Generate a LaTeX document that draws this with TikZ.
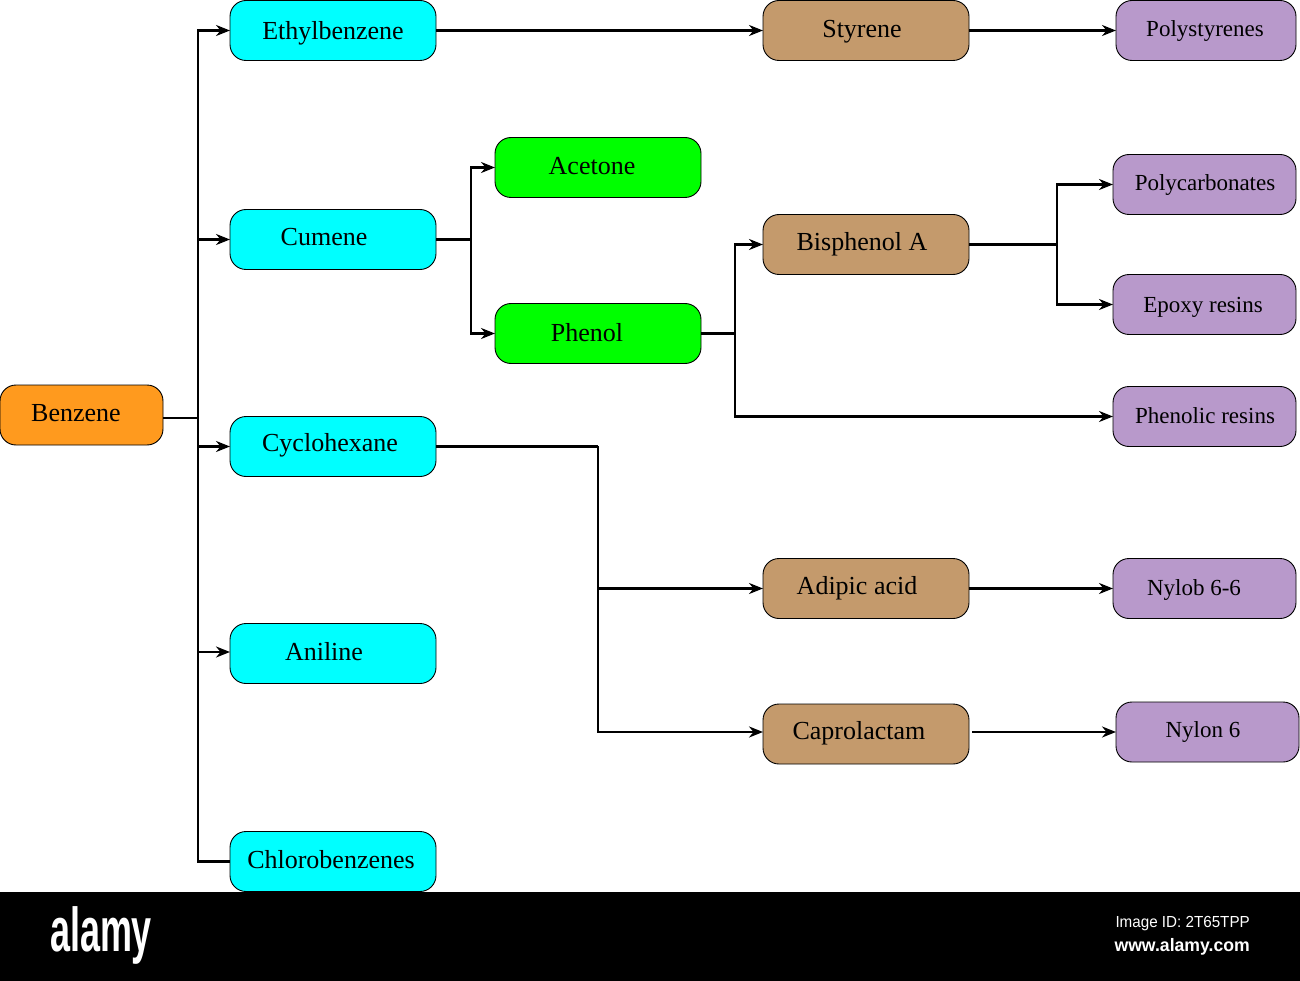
\documentclass[tikz,border=0pt]{standalone}
\usepackage{fontspec}
\setmainfont{Liberation Serif}
\newfontfamily\alamyfont{Liberation Sans}
\usetikzlibrary{arrows.meta}
\definecolor{cOrange}{HTML}{FF9A1E}
\definecolor{cCyan}{HTML}{00FFFF}
\definecolor{cGreen}{HTML}{00FF00}
\definecolor{cTan}{HTML}{C49A6C}
\definecolor{cPurple}{HTML}{B899CB}
\tikzset{
  x=1pt,y=-1pt,
  box/.style={draw=black,line width=0.9pt,rounded corners=16pt,minimum height=60pt,inner sep=0pt,outer sep=0pt,anchor=north west},
  lab/.style={font=\fontsize{26}{26}\selectfont,inner sep=0pt,text=black},
  labp/.style={font=\fontsize{23}{23}\selectfont,inner sep=0pt,text=black},
  conn/.style={draw=black,line width=2.2pt},
  arr/.style={conn,-{Stealth[length=14pt,width=11pt]}},
  strip/.style={text=white,inner sep=0pt}
}
\begin{document}
\begin{tikzpicture}
\useasboundingbox (0,0) rectangle (1300,981);
\fill[white] (0,0) rectangle (1300,981);
\fill[black] (0,892) rectangle (1300,981);
% boxes
\node[box,fill=cOrange,minimum width=163pt] (benzene) at (0,385) {};
\node[box,fill=cCyan,minimum width=206pt] (ethyl) at (230,0.5) {};
\node[box,fill=cCyan,minimum width=206pt] (cumene) at (230,209.5) {};
\node[box,fill=cCyan,minimum width=206pt] (cyclo) at (230,416.5) {};
\node[box,fill=cCyan,minimum width=206pt] (aniline) at (230,623.5) {};
\node[box,fill=cCyan,minimum width=206pt] (chloro) at (230,831.5) {};
\node[box,fill=cGreen,minimum width=206pt] (acetone) at (495,137.5) {};
\node[box,fill=cGreen,minimum width=206pt] (phenol) at (495,303.5) {};
\node[box,fill=cTan,minimum width=206pt] (styrene) at (763,0.5) {};
\node[box,fill=cTan,minimum width=206pt] (bisphenol) at (763,214.5) {};
\node[box,fill=cTan,minimum width=206pt] (adipic) at (763,558.5) {};
\node[box,fill=cTan,minimum width=206pt] (capro) at (763,704) {};
\node[box,fill=cPurple,minimum width=180pt] (polystyrenes) at (1116,0.5) {};
\node[box,fill=cPurple,minimum width=183pt] (polycarb) at (1113,154.5) {};
\node[box,fill=cPurple,minimum width=183pt] (epoxy) at (1113,274.5) {};
\node[box,fill=cPurple,minimum width=183pt] (phenolic) at (1113,386.5) {};
\node[box,fill=cPurple,minimum width=183pt] (nylob) at (1113,558.5) {};
\node[box,fill=cPurple,minimum width=183pt] (nylon) at (1116,702) {};
% labels
\node[lab] at (76,413) {Benzene};
\node[lab] at (333,33) {Ethylbenzene};
\node[lab] at (324,237) {Cumene};
\node[lab] at (330,445) {Cyclohexane};
\node[lab] at (324,652) {Aniline};
\node[lab] at (331,860) {Chlorobenzenes};
\node[lab] at (592,166) {Acetone};
\node[lab] at (587,333) {Phenol};
\node[lab] at (862,32) {Styrene};
\node[lab] at (862,244) {Bisphenol A};
\node[lab] at (857,588) {Adipic acid};
\node[lab] at (859,733) {Caprolactam};
\node[labp] at (1205,31) {Polystyrenes};
\node[labp] at (1205,185) {Polycarbonates};
\node[labp] at (1203,307) {Epoxy resins};
\node[labp] at (1205,416) {Phenolic resins};
\node[labp] at (1194,590) {Nylob 6-6};
\node[labp] at (1203,732) {Nylon 6};
% junctions
\coordinate (j1) at (198,418);
\coordinate (j2) at (471,240);
\coordinate (j3) at (735,334);
\coordinate (j4) at (1057,245);
\coordinate (j5) at (598,446);
% connectors
\draw[conn] (benzene.east |- j1) -- (j1);
\draw[arr] (j1) |- (ethyl.west);
\draw[arr] (j1) |- (cumene.west);
\draw[arr] (j1) |- (cyclo.west);
\draw[arr] (j1) |- ([yshift=1.5pt]aniline.west);
\draw[conn] (j1) |- (chloro.west);
\draw[arr] (ethyl.east) -- (styrene.west);
\draw[arr] (styrene.east) -- (polystyrenes.west);
\draw[conn] (cumene.east) -| (j2);
\draw[arr] (j2) |- (acetone.west);
\draw[arr] (j2) |- (phenol.west);
\draw[conn] (phenol.east) -| (j3);
\draw[arr] (j3) |- (bisphenol.west);
\draw[arr] (j3) |- (phenolic.west);
\draw[conn] (bisphenol.east) -| (j4);
\draw[arr] (j4) |- (polycarb.west);
\draw[arr] (j4) |- (epoxy.west);
\draw[conn] (cyclo.east) -| (j5);
\draw[arr] (j5) |- (adipic.west);
\draw[arr] (j5) |- ([yshift=2pt]capro.west);
\draw[arr] (adipic.east) -- (nylob.west);
\draw[arr] ([xshift=3pt,yshift=2pt]capro.east) -- (nylon.west);
% stock-photo strip
\node[strip,font=\alamyfont\bfseries\fontsize{62}{62}\selectfont,xscale=0.58] (alamy) at (101,935) {alamy};
\node[strip,anchor=east,font=\alamyfont\fontsize{16}{16}\selectfont,xscale=0.95] (code) at (1250,924) {Image ID: 2T65TPP};
\node[strip,anchor=east,font=\alamyfont\bfseries\fontsize{18}{18}\selectfont,xscale=0.98] (url) at (1250,947) {www.alamy.com};
\end{tikzpicture}
\end{document}
